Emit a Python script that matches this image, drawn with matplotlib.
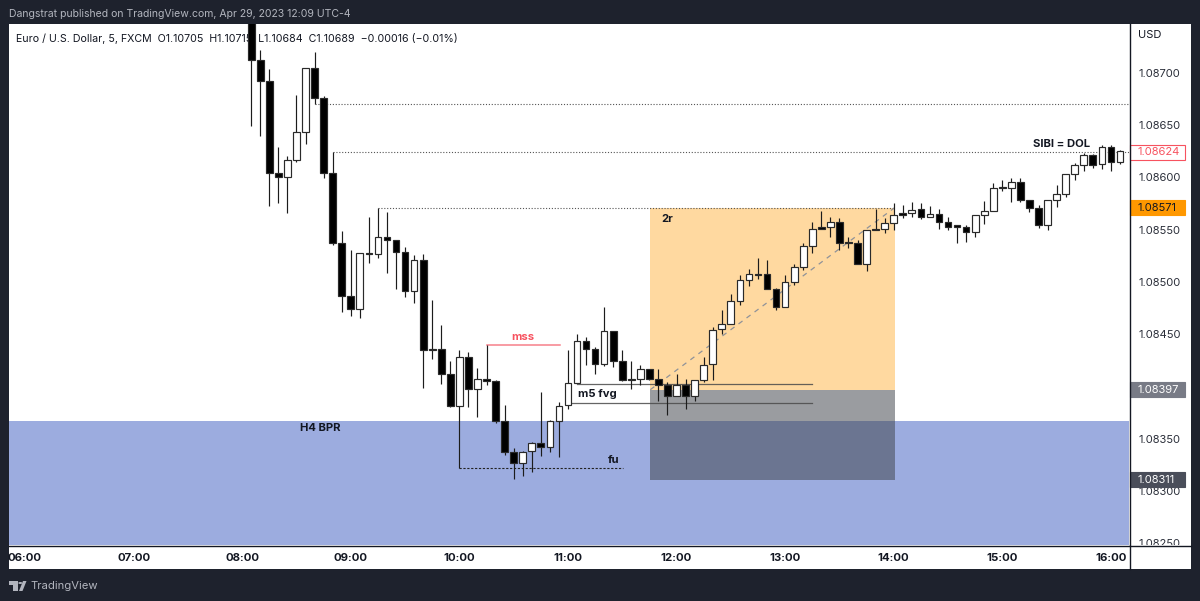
import numpy as np
import matplotlib
matplotlib.use('Agg')
import matplotlib.pyplot as plt
from matplotlib.lines import Line2D
from matplotlib.patches import Rectangle, Polygon, Circle

plt.rcParams['font.family'] = ['Inter', 'DejaVu Sans']

# velas de 5 min, la primera es la barra 25 contando desde las 06:00
first_bar = 25
opens = [1.08765, 1.08712, 1.08692, 1.08604, 1.08600, 1.08617, 1.08643, 1.08705, 1.08676, 1.08604,
         1.08537, 1.08487, 1.08474, 1.08528, 1.08527, 1.08543, 1.08540, 1.08529, 1.08491, 1.08521,
         1.08436, 1.08436, 1.08412, 1.08381, 1.08428, 1.08398, 1.08407, 1.08405, 1.08367, 1.08337,
         1.08327, 1.08338, 1.08346, 1.08342, 1.08367, 1.08382, 1.08403, 1.08444, 1.08436, 1.08422,
         1.08453, 1.08424, 1.08407, 1.08407, 1.08417, 1.08407, 1.08401, 1.08391, 1.08401, 1.08391,
         1.08406, 1.08422, 1.08455, 1.08460, 1.08482, 1.08502, 1.08508, 1.08508, 1.08493, 1.08476,
         1.08500, 1.08514, 1.08534, 1.08553, 1.08553, 1.08557, 1.08538, 1.08537, 1.08517, 1.08551,
         1.08551, 1.08556, 1.08566, 1.08566, 1.08570, 1.08562, 1.08565, 1.08557, 1.08554, 1.08553,
         1.08548, 1.08564, 1.08568, 1.08591, 1.08590, 1.08596, 1.08578, 1.08571, 1.08554, 1.08578,
         1.08584, 1.08603, 1.08612, 1.08621, 1.08613, 1.08629, 1.08615]
highs = [1.08774, 1.08722, 1.08704, 1.08629, 1.08620, 1.08679, 1.08705, 1.08720, 1.08678, 1.08624,
         1.08549, 1.08531, 1.08528, 1.08562, 1.08571, 1.08567, 1.08540, 1.08533, 1.08526, 1.08527,
         1.08483, 1.08459, 1.08424, 1.08435, 1.08433, 1.08418, 1.08440, 1.08406, 1.08382, 1.08341,
         1.08338, 1.08347, 1.08395, 1.08368, 1.08385, 1.08435, 1.08450, 1.08447, 1.08438, 1.08476,
         1.08453, 1.08435, 1.08424, 1.08421, 1.08417, 1.08417, 1.08404, 1.08412, 1.08407, 1.08406,
         1.08428, 1.08457, 1.08473, 1.08488, 1.08507, 1.08512, 1.08523, 1.08521, 1.08494, 1.08507,
         1.08517, 1.08537, 1.08557, 1.08568, 1.08562, 1.08561, 1.08543, 1.08540, 1.08550, 1.08570,
         1.08561, 1.08575, 1.08574, 1.08576, 1.08575, 1.08573, 1.08570, 1.08562, 1.08554, 1.08554,
         1.08564, 1.08577, 1.08595, 1.08597, 1.08599, 1.08599, 1.08578, 1.08574, 1.08578, 1.08593,
         1.08603, 1.08614, 1.08623, 1.08622, 1.08631, 1.08631, 1.08626]
lows = [1.08649, 1.08640, 1.08573, 1.08575, 1.08566, 1.08615, 1.08632, 1.08670, 1.08599, 1.08535,
        1.08471, 1.08467, 1.08466, 1.08518, 1.08523, 1.08509, 1.08493, 1.08486, 1.08480, 1.08399,
        1.08426, 1.08402, 1.08380, 1.08322, 1.08380, 1.08371, 1.08401, 1.08365, 1.08335, 1.08312,
        1.08314, 1.08318, 1.08334, 1.08337, 1.08333, 1.08379, 1.08403, 1.08421, 1.08412, 1.08420,
        1.08419, 1.08405, 1.08398, 1.08401, 1.08406, 1.08386, 1.08373, 1.08391, 1.08379, 1.08386,
        1.08404, 1.08406, 1.08450, 1.08460, 1.08478, 1.08496, 1.08503, 1.08493, 1.08473, 1.08476,
        1.08497, 1.08511, 1.08528, 1.08551, 1.08543, 1.08531, 1.08532, 1.08517, 1.08510, 1.08550,
        1.08547, 1.08550, 1.08561, 1.08562, 1.08560, 1.08562, 1.08551, 1.08550, 1.08537, 1.08538,
        1.08543, 1.08555, 1.08568, 1.08587, 1.08576, 1.08576, 1.08567, 1.08552, 1.08550, 1.08572,
        1.08581, 1.08597, 1.08606, 1.08609, 1.08608, 1.08606, 1.08613]
closes = [1.08712, 1.08692, 1.08604, 1.08600, 1.08617, 1.08643, 1.08705, 1.08676, 1.08604, 1.08537,
          1.08487, 1.08474, 1.08528, 1.08527, 1.08543, 1.08540, 1.08529, 1.08491, 1.08521, 1.08435,
          1.08435, 1.08412, 1.08381, 1.08428, 1.08398, 1.08407, 1.08405, 1.08367, 1.08337, 1.08327,
          1.08337, 1.08346, 1.08342, 1.08367, 1.08381, 1.08403, 1.08444, 1.08436, 1.08422, 1.08453,
          1.08424, 1.08406, 1.08406, 1.08417, 1.08407, 1.08401, 1.08391, 1.08401, 1.08391, 1.08406,
          1.08421, 1.08454, 1.08460, 1.08482, 1.08502, 1.08508, 1.08507, 1.08493, 1.08476, 1.08500,
          1.08514, 1.08534, 1.08551, 1.08551, 1.08557, 1.08537, 1.08537, 1.08517, 1.08550, 1.08550,
          1.08556, 1.08564, 1.08564, 1.08569, 1.08562, 1.08565, 1.08557, 1.08553, 1.08553, 1.08548,
          1.08564, 1.08568, 1.08590, 1.08590, 1.08596, 1.08578, 1.08571, 1.08554, 1.08578, 1.08584,
          1.08603, 1.08612, 1.08621, 1.08612, 1.08629, 1.08615, 1.08625]

# ejes
hour_bars = [0, 12, 24, 36, 48, 60, 72, 84, 96, 108, 120]
hour_labels = ['06:00', '07:00', '08:00', '09:00', '10:00', '11:00', '12:00', '13:00', '14:00', '15:00', '16:00']
price_ticks = [1.08700, 1.08650, 1.08600, 1.08550, 1.08500, 1.08450, 1.08350, 1.08300, 1.08250]

# niveles y zonas
bpr_top = 1.08367
target_price = 1.08571
entry_price = 1.08397
stop_price = 1.08311
last_price = 1.08624
upper_level = 1.08670
fvg_top = 1.08402
fvg_bottom = 1.08384
fu_price = 1.08322
mss_price = 1.08440

fig = plt.figure(figsize=(12, 6.01), dpi=100, facecolor='#1e222d')
W, H = 1200, 601
fig.add_artist(Rectangle((9 / W, 1 - 569 / H), 1182 / W, 545 / H, transform=fig.transFigure,
                         facecolor='white', edgecolor='none', zorder=-1))

ax = fig.add_axes([9 / W, 1 - 545 / H, 1120 / W, 521 / H])
ax.set_xlim(-1.768, 122.0)
ax.set_ylim(1.082485, 1.087466)
ax.set_facecolor('white')

ax.axhspan(1.0, bpr_top, color='#9cacdf', lw=0, zorder=1)
ax.add_patch(Rectangle((69.1, entry_price), 27, target_price - entry_price,
                       facecolor='#ffd9a0', edgecolor='none', zorder=1.1))
ax.add_patch(Rectangle((69.1, stop_price), 27, entry_price - stop_price,
                       facecolor=(0.25, 0.27, 0.30, 0.53), edgecolor='none', zorder=1.2))

dot = (0, (1, 1.6))
ax.plot([32, 122], [upper_level, upper_level], color='#555555', lw=0.8, ls=dot, zorder=2)
ax.plot([34, 122], [last_price, last_price], color='#555555', lw=0.8, ls=dot, zorder=2)
ax.plot([39, 96.1], [target_price, target_price], color='#555555', lw=0.8, ls=dot, zorder=2)
ax.plot([48, 66.1], [fu_price, fu_price], color='#222222', lw=0.8, ls=(0, (2, 1.5)), zorder=2)
ax.plot([51, 59.1], [mss_price, mss_price], color='#f7808a', lw=1.1, zorder=2)
ax.plot([61, 87], [fvg_top, fvg_top], color='#4a4a4a', lw=0.9, alpha=0.85, zorder=2)
ax.plot([60, 87], [fvg_bottom, fvg_bottom], color='#4a4a4a', lw=0.9, alpha=0.85, zorder=2)
ax.plot([69.1, 96.1], [entry_price, target_price], color='#8f9299', lw=0.9, ls=(0, (4, 4)), zorder=2.1)

# velas
bars = first_bar + np.arange(len(opens))
o = np.array(opens)
c = np.array(closes)
up = c >= o
ax.vlines(bars, lows, highs, color='#1c1c1c', lw=0.85, zorder=3)
ax.bar(bars, np.abs(c - o), bottom=np.minimum(o, c), width=0.74,
       color=np.where(up, 'white', 'black'), edgecolor='#2a2a2a', linewidth=0.85, zorder=4)

# textos del grafico
note_size = 8.1
ax.text(55, 1.08447, 'mss', color='#f7525f', fontsize=note_size, fontweight='bold', ha='center', va='center', zorder=5)
ax.text(63.3, 1.08393, 'm5 fvg', color='#131722', fontsize=note_size, fontweight='bold', ha='center', va='center', zorder=5)
ax.text(32.6, 1.08360, 'H4 BPR', color='#131722', fontsize=note_size, fontweight='bold', ha='center', va='center', zorder=5)
ax.text(65.1, 1.08330, 'fu', color='#131722', fontsize=note_size, fontweight='bold', ha='center', va='center', zorder=5)
ax.text(71, 1.08560, '2r', color='#131722', fontsize=note_size, fontweight='bold', ha='center', va='center', zorder=5)
ax.text(114.6, 1.08632, 'SIBI = DOL', color='#131722', fontsize=note_size, fontweight='bold', ha='center', va='center', zorder=5)

for side in ['top', 'left', 'right', 'bottom']:
    ax.spines[side].set_visible(False)

ax.set_xticks(hour_bars)
ax.set_xticklabels(hour_labels, fontsize=8.2, fontweight='bold', color='#131722')
ax.yaxis.tick_right()
ax.set_yticks(price_ticks)
ax.set_yticklabels([f'{p:.5f}' for p in price_ticks], fontsize=8, color='#2a2e39')
ax.tick_params(axis='both', length=0)
ax.tick_params(axis='x', pad=6)
ax.tick_params(axis='y', pad=6.5)

# etiquetas de precio
tags = [(last_price, 'white', '#f7525f', '#f7525f'),
        (target_price, '#ff9800', '#ff9800', '#131722'),
        (entry_price, '#787b86', '#787b86', 'white'),
        (stop_price, '#4a4e5a', '#4a4e5a', 'white')]
for price, face, edge, txt in tags:
    ax.add_patch(Rectangle((1.0008, price - 0.0000715), 0.0495, 0.000143, transform=ax.get_yaxis_transform(),
                           facecolor=face, edgecolor=edge, lw=0.8, clip_on=False, zorder=6))
    ax.text(1 + 8.5 / 1120, price, f'{price:.5f}', transform=ax.get_yaxis_transform(), color=txt,
            fontsize=8, ha='left', va='center', zorder=7)

# tapa la mitad inferior de 1.08250 y dibuja los bordes de las escalas
fig.add_artist(Rectangle((1130 / W, 1 - 569 / H), 61 / W, 24 / H, transform=fig.transFigure,
                         facecolor='white', edgecolor='none', zorder=5))
fig.add_artist(Line2D([9 / W, 1191 / W], [1 - 545.5 / H, 1 - 545.5 / H], color='#131722', lw=1, zorder=6))
fig.add_artist(Line2D([1129.5 / W, 1129.5 / W], [1 - 24 / H, 1 - 569 / H], color='#131722', lw=1, zorder=6))

# cabecera
fig.text(9 / W, 1 - 14 / H, 'Dangstrat published on TradingView.com, Apr 29, 2023 12:09 UTC-4',
         color='#b2b5be', fontsize=7.55, va='center')
fig.text(1138 / W, 1 - 35 / H, 'USD', color='#131722', fontsize=8, va='center')
ax.text(7 / 1120, 1 - 14 / 521, 'Euro / U.S. Dollar, 5, FXCM  O1.10705  H1.10715  L1.10684  C1.10689  \u22120.00016 (\u22120.01%)',
        transform=ax.transAxes, color='#131722', fontsize=7.67, va='center', zorder=3.5)

# logo y marca
logo_color = '#b2b5be'
to_fig = lambda pts: [(x / W, 1 - y / H) for x, y in pts]
fig.add_artist(Polygon(to_fig([(9, 581), (18, 581), (18, 591), (13, 591), (13, 585), (9, 585)]),
                       transform=fig.transFigure, facecolor=logo_color, edgecolor='none'))
fig.add_artist(Polygon(to_fig([(23, 581), (26.5, 581), (22.5, 591), (19, 591)]),
                       transform=fig.transFigure, facecolor=logo_color, edgecolor='none'))
fig.add_artist(Circle((20.3 / W, 1 - 583 / H), 2.0 / W, transform=fig.transFigure, facecolor=logo_color, edgecolor='none'))
fig.text(30 / W, 1 - 586 / H, 'TradingView', color=logo_color, fontsize=8.1, va='center')

fig.savefig('out.png', dpi=100, facecolor=fig.get_facecolor())
